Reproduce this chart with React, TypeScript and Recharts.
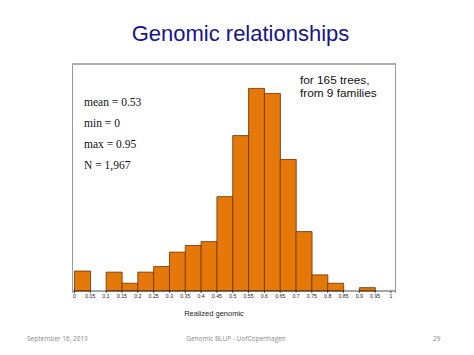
import { ComposedChart, Bar, XAxis, YAxis, Label } from 'recharts';

// histogram bins (lower edge) and counts
const binStarts = [0, 0.05, 0.1, 0.15, 0.2, 0.25, 0.3, 0.35, 0.4, 0.45, 0.5, 0.55, 0.6, 0.65, 0.7, 0.75, 0.8, 0.85, 0.9, 0.95];
const counts = [36, 0, 34, 14, 34, 44, 70, 82, 89, 170, 280, 365, 356, 237, 107, 29, 14, 0, 6, 0];
const tickValues = [0, 0.05, 0.1, 0.15, 0.2, 0.25, 0.3, 0.35, 0.4, 0.45, 0.5, 0.55, 0.6, 0.65, 0.7, 0.75, 0.8, 0.85, 0.9, 0.95, 1];
const tickLabels = ['0', '0.05', '0.1', '0.15', '0.2', '0.25', '0.3', '0.35', '0.4', '0.45', '0.5', '0.55', '0.6', '0.65', '0.7', '0.75', '0.8', '0.85', '0.9', '0.95', '1'];
const statLines = ['mean = 0.53', 'min = 0', 'max = 0.95', 'N = 1,967'];
const noteLines = ['for 165 trees,', 'from 9 families'];

const data = binStarts.map((x, i) => ({ bin: String(x), x, count: counts[i] }));

const sans = '"Liberation Sans", Arial, sans-serif';

const App = () => {
  return (
    <div style={{ position: 'absolute', left: 0, top: 0, width: 474, height: 355, background: '#fff', overflow: 'hidden' }}>
      <div style={{ position: 'absolute', left: 0, width: 481, top: 20, textAlign: 'center', fontFamily: sans, fontSize: 22, color: '#16168a', lineHeight: '28px' }}>
        Genomic relationships
      </div>

      {/* plot frame */}
      <div style={{ position: 'absolute', left: 72, top: 63, width: 322, height: 228, borderTop: '2px solid #b0b0b0', borderLeft: '1px solid #9a9a9a', borderRight: '1px solid #9a9a9a' }} />

      <div style={{ position: 'absolute', left: 0, top: 0 }}>
        <ComposedChart width={474} height={355} data={data} margin={{ top: 64, right: 79, bottom: 44, left: 73 }} barCategoryGap={0} barGap={0}>
          <XAxis
            xAxisId="num"
            dataKey="x"
            type="number"
            domain={[0, 1]}
            ticks={tickValues}
            interval={0}
            tickFormatter={(v: number) => tickLabels[tickValues.indexOf(v)] ?? String(v)}
            padding={{ left: 1.5, right: 4 }}
            height={20}
            tickSize={2}
            tickMargin={1.5}
            axisLine={{ stroke: '#222', strokeWidth: 0.8 }}
            tickLine={{ stroke: '#222', strokeWidth: 0.8 }}
            tick={{ fontSize: 5.2, fill: '#222', fontFamily: sans }}
          >
            <Label value="Realized genomic" position="insideBottom" offset={-5} dx={-20} style={{ fontSize: 7.5, fill: '#222', fontFamily: sans }} />
          </XAxis>
          <XAxis xAxisId="bins" dataKey="bin" hide height={0} padding={{ left: 1.5, right: 4 }} />
          <YAxis hide domain={[0, 409]} />
          <Bar xAxisId="bins" dataKey="count" fill="#e4790a" stroke="#6a3000" strokeWidth={0.8} isAnimationActive={false} />
        </ComposedChart>
      </div>

      {statLines.map((t, i) => (
        <div key={t} style={{ position: 'absolute', left: 84, top: 94 + i * 21, fontFamily: '"Liberation Serif", "Times New Roman", serif', fontSize: 11.5, lineHeight: '16px', color: '#111', whiteSpace: 'nowrap' }}>
          {t}
        </div>
      ))}
      {noteLines.map((t, i) => (
        <div key={t} style={{ position: 'absolute', left: 300, top: 73 + i * 13, fontFamily: sans, fontSize: 11.8, lineHeight: '15px', color: '#111', whiteSpace: 'nowrap' }}>
          {t}
        </div>
      ))}

      <div style={{ position: 'absolute', left: 27, top: 333, fontFamily: '"Open Sans", sans-serif', fontSize: 6.5, color: '#8a8a8a', whiteSpace: 'nowrap', lineHeight: '12px' }}>
        September 16, 2013
      </div>
      <div style={{ position: 'absolute', left: 136, width: 200, top: 333, textAlign: 'center', fontFamily: '"Open Sans", sans-serif', fontSize: 6.5, color: '#8a8a8a', whiteSpace: 'nowrap', lineHeight: '12px' }}>
        Genomic BLUP - UofCopenhagen
      </div>
      <div style={{ position: 'absolute', left: 433, top: 333, fontFamily: '"Open Sans", sans-serif', fontSize: 6.5, color: '#8a8a8a', whiteSpace: 'nowrap', lineHeight: '12px' }}>
        29
      </div>
    </div>
  );
};

export default App;
